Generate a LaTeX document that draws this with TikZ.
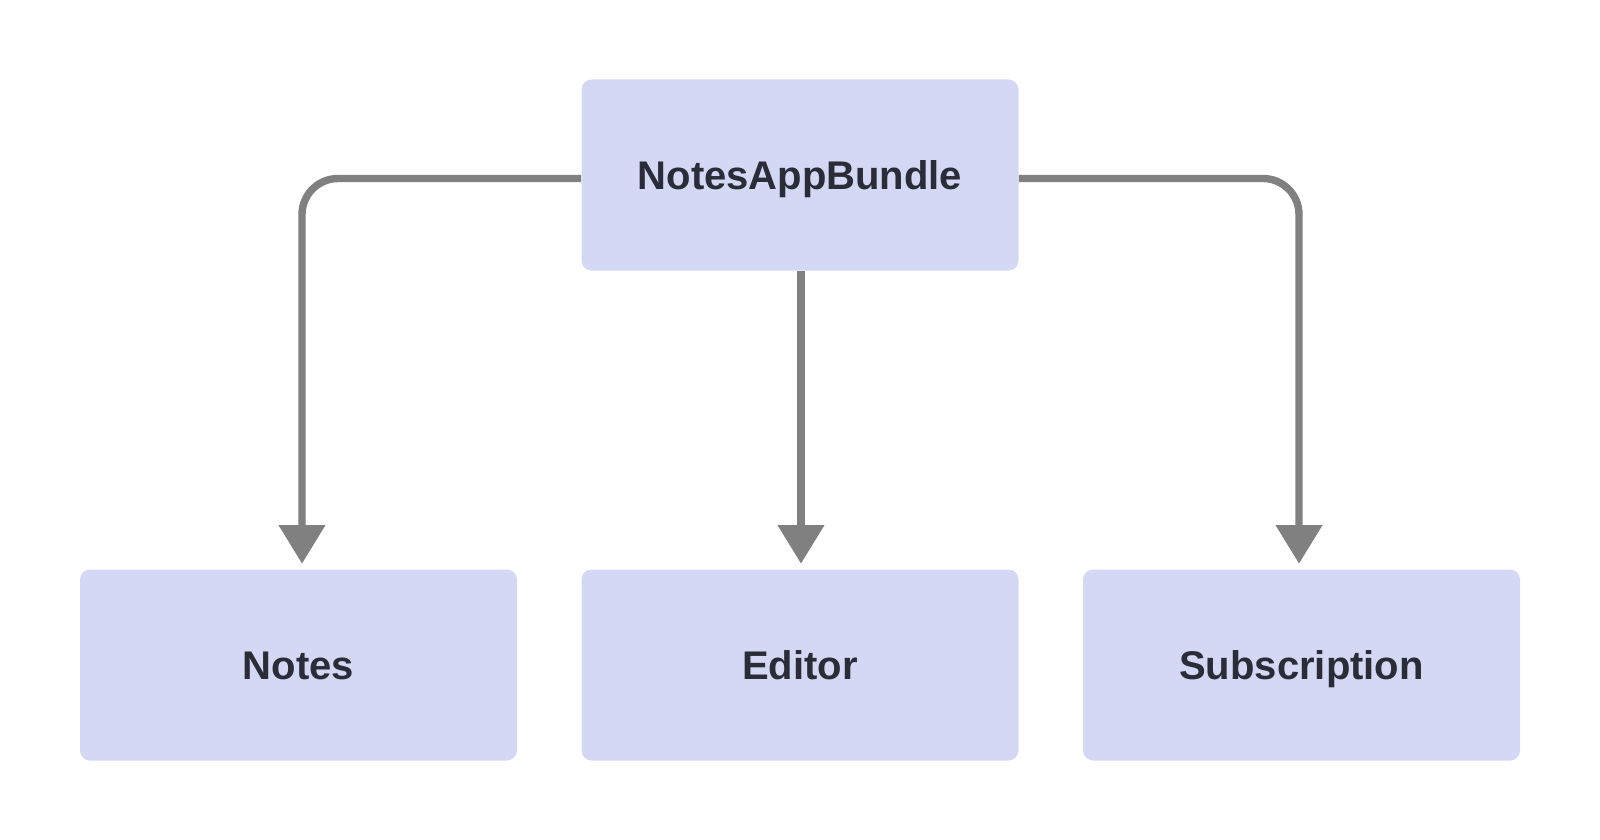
\documentclass[tikz,border=0pt]{standalone}
\usepackage{fontspec}
\setmainfont{Liberation Sans}
\usetikzlibrary{arrows.meta}
\definecolor{boxfill}{HTML}{D4D8F4}
\definecolor{boxtext}{HTML}{2A2C38}
\definecolor{linkgray}{HTML}{808080}
\begin{document}
\begin{tikzpicture}[x=0.5pt, y=-0.5pt,
    box/.style={fill=boxfill, rounded corners=5pt, inner sep=0pt,
      minimum width=218.5pt, minimum height=95.5pt, text=boxtext,
      text height=14.3pt, text depth=0pt,
      font=\fontsize{20}{24}\selectfont\bfseries},
    link/.style={draw=linkgray, line width=3.7pt, rounded corners=18pt,
      -{Triangle[width=22.5pt, length=19.3pt]}, shorten >=2.7pt}]
    \useasboundingbox (0, 0) rectangle (1600, 840);
    \node[box] (b) at (800, 175) {NotesAppBundle};
    \node[box] (n) at (298.5, 665) {Notes};
    \node[box] (e) at (800, 665) {Editor};
    \node[box] (s) at (1301.5, 665) {Subscription};
    \draw [link] ([yshift=-1.75pt]b.west) -| ([xshift=1.75pt]n.north);
    \draw [link] ([xshift=0.5pt]b.south) -- ([xshift=0.5pt]e.north);
    \draw [link] ([yshift=-1.75pt]b.east) -| ([xshift=-1.25pt]s.north);
  \end{tikzpicture}
\end{document}
